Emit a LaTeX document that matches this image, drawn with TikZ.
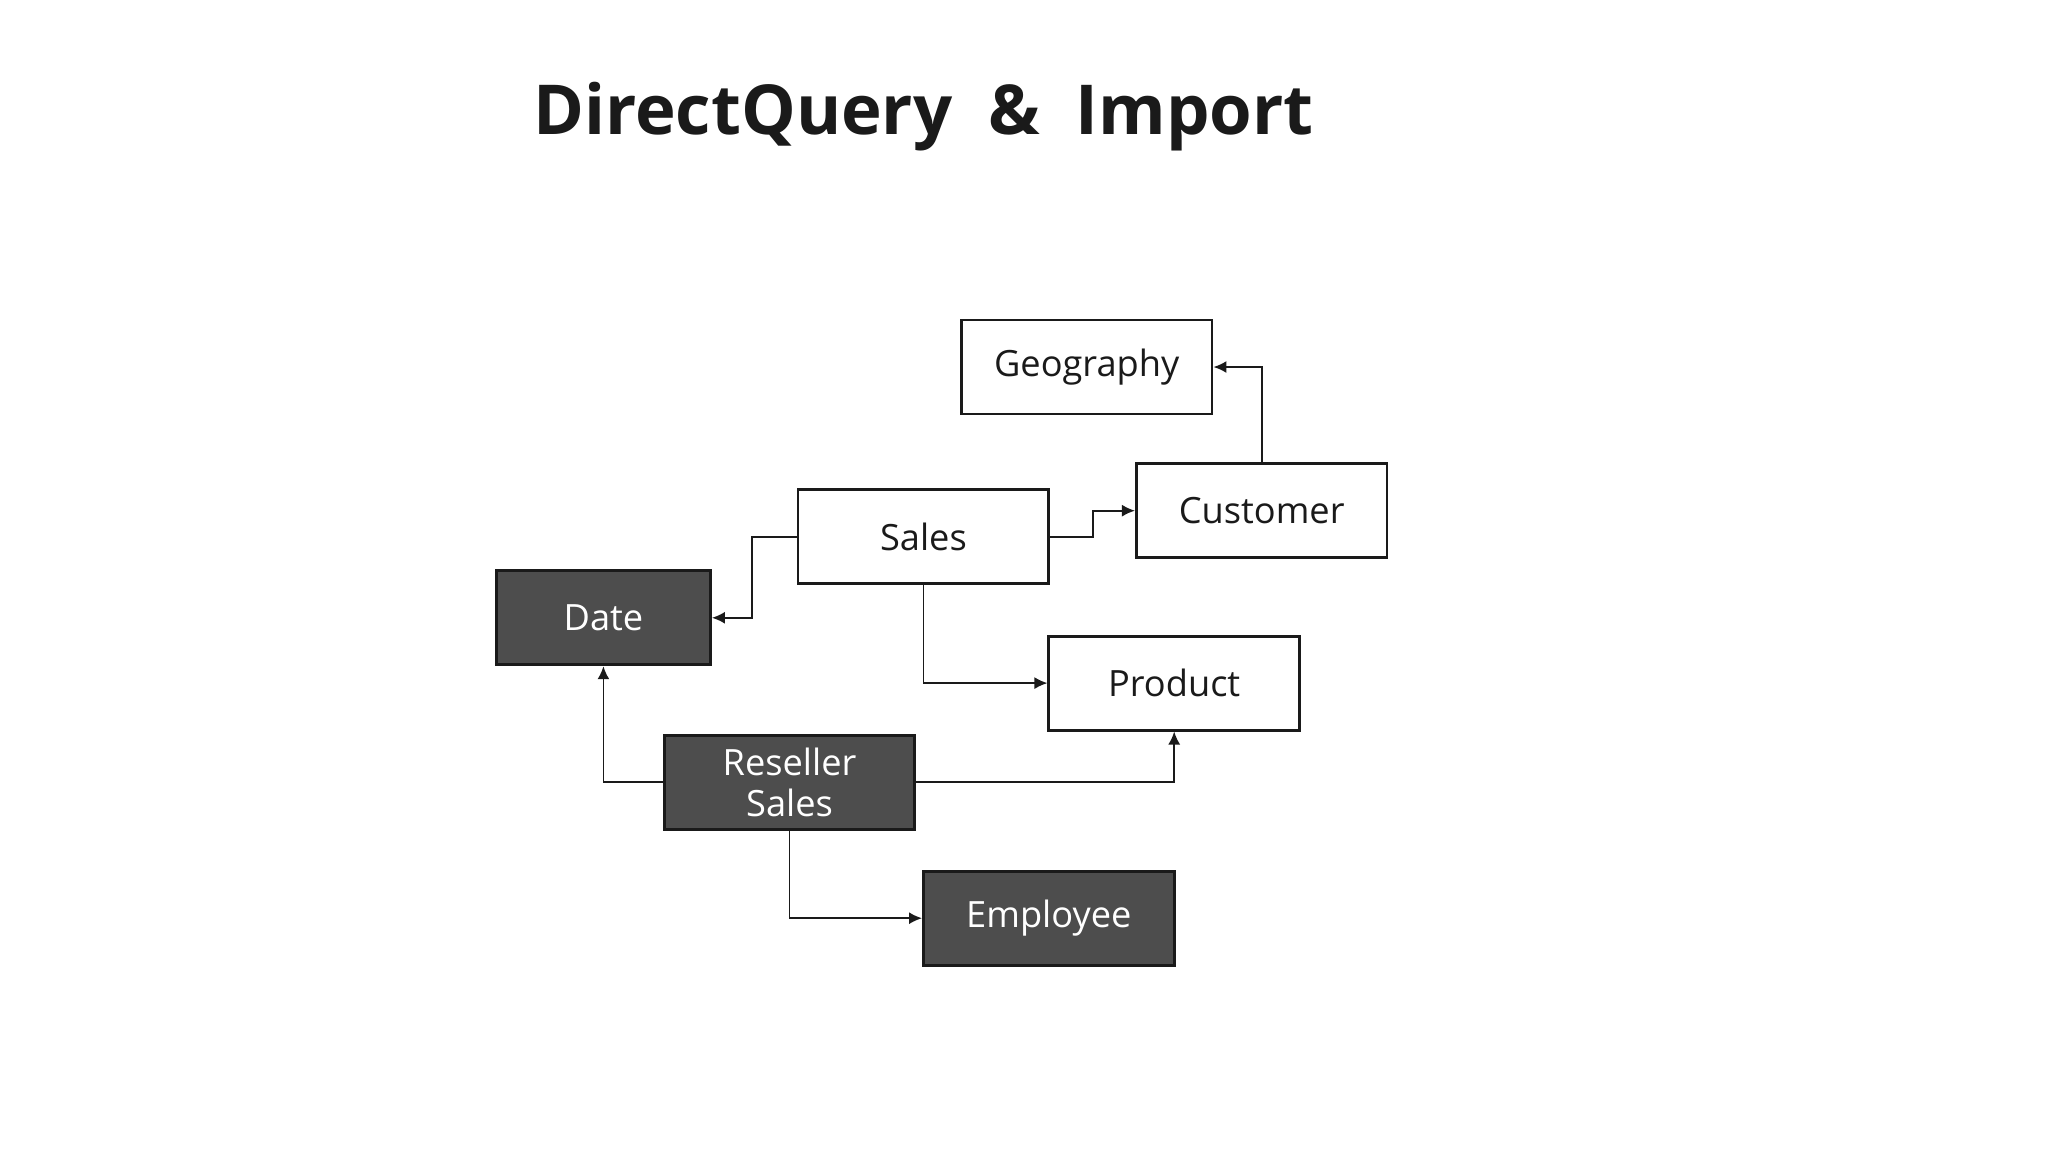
\documentclass[tikz,border=0pt]{standalone}
\usepackage{fontspec}
\setmainfont{Open Sans}
\usepackage{xcolor}
\usepackage{tikz}
\usetikzlibrary{arrows.meta,positioning}
\definecolor{darkfill}{HTML}{4D4D4D}
\definecolor{inkgray}{HTML}{1A1A1A}

\begin{document}
\begin{tikzpicture}
        [x=0.01306cm,y=-0.01306cm,
          table/.style={draw=inkgray,line width=0.8pt,fill=white,text=inkgray,
            minimum width=2.507cm,minimum height=0.94cm,inner sep=0pt,
            align=center,font=\fontsize{10.3}{12}\selectfont},
          dimtable/.style={table,fill=darkfill,text=white},
          link/.style={draw=inkgray,line width=0.5pt,
            -{Latex[length=1.3mm,width=1.2mm]}}]
        \useasboundingbox (0,0) rectangle (1568,882);
        \node[text=inkgray,font=\fontsize{19.6}{24}\selectfont\bfseries] (title) at (707,89) {DirectQuery\ \ \&\ \ Import};

        % tables
        \node[table] (geography) at (832,281) {Geography};
        \node[table] (customer) at (966,391) {Customer};
        \node[table] (sales) at (707,411) {Sales};
        \node[dimtable,minimum width=2.142cm] (date) at (462,473) {Date};
        \node[table] (product) at (899,523) {Product};
        \node[dimtable] (reseller) at (604.5,599) {Reseller\\[-0.5pt]Sales};
        \node[dimtable] (employee) at (803,703) {Employee};

        % relationships
        \draw[link] (sales.west) -- ++(-34,0) |- (date.east);
        \draw[link] (sales.east) -- ++(33,0) |- (customer.west);
        \draw[link] (customer.north) |- (geography.east);
        \draw[link] (sales.south) |- (product.west);
        \draw[link] (reseller.west) -| (date.south);
        \draw[link] (reseller.east) -| (product.south);
        \draw[link] (reseller.south) |- (employee.west);

      \end{tikzpicture}
\end{document}
